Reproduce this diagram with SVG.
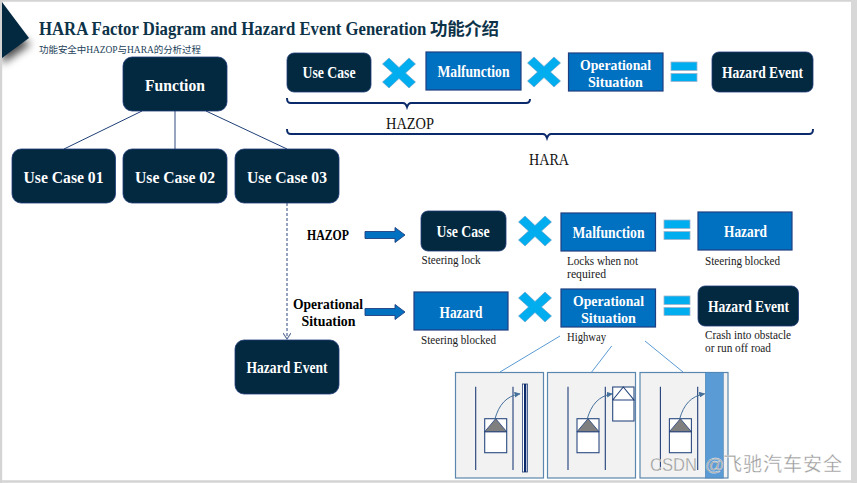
<svg xmlns="http://www.w3.org/2000/svg" width="857" height="483" viewBox="0 0 857 483">
<style>
text{font-family:"Liberation Serif","Noto Sans CJK SC",serif}
.dk{fill:#032940;stroke:#1f3b78;stroke-width:.8}
.bl{fill:#0070c0;stroke:#1f3f80;stroke-width:1.2}
.w{fill:#fff;font-weight:700;font-size:17px;text-anchor:middle}
.w2{fill:#fff;font-weight:700;font-size:15.5px;text-anchor:middle}
.k{fill:#000;font-weight:700;font-size:15.5px;text-anchor:middle}
.s{fill:#1a1a1a;font-size:11.5px}
.br{fill:none;stroke:#0b2a6b;stroke-width:2}
.ln{fill:none;stroke:#203f78;stroke-width:1}
.cl{fill:none;stroke:#5b9bd5;stroke-width:1}
.pn{fill:#f2f2f2;stroke:#5b86ad;stroke-width:1.2}
.rd{fill:none;stroke:#203f78;stroke-width:1.1}
.car{fill:#fff;stroke:#2a4a80;stroke-width:1.1}
.cv{fill:none;stroke:#44709c;stroke-width:1}
.wm{font-size:19px;fill:#999;stroke:#fff;stroke-width:.3;font-family:"Liberation Sans","Noto Sans CJK SC",sans-serif}
</style>
<defs>
<filter id="sh" x="-80%" y="-80%" width="260%" height="260%"><feGaussianBlur stdDeviation="4.5"/></filter>
<polygon id="x" points="-16.500,-9 -10,-15 0,-5.500 10,-15 16.500,-9 6.500,0 16.500,9 10,15 0,5.500 -10,15 -16.500,9 -6.500,0" fill="#00adef" stroke="#6d9ec4" stroke-width=".6"/>
<g id="eq" fill="#00adef" stroke="#9fb4cc" stroke-width=".8"><rect x="0" y="0" width="26" height="8.500"/><rect x="0" y="11.500" width="26" height="8"/></g>
<path id="ar" d="M0,-3.500H30V-7.500L40,0L30,7.500V3.500H0Z" fill="#0070c0" stroke="#1f3f80" stroke-width=".9"/>
<marker id="op" markerWidth="10" markerHeight="8" refX="7" refY="4" orient="auto" markerUnits="userSpaceOnUse"><path d="M1,0L7,4L1,8" fill="none" stroke="#5f7299" stroke-width="1.2"/></marker>
<marker id="sa" markerWidth="7" markerHeight="6" refX="5.500" refY="3" orient="auto" markerUnits="userSpaceOnUse"><path d="M0,0L6,3L0,6Z" fill="#44709c"/></marker>
<g id="car"><rect class="car" x="0" y="0" width="22" height="34"/><path d="M0,13H22" class="rd"/></g>
<g id="mine"><use href="#car" x="484.700" y="418.700"/><path d="M484.700,431.700L495.700,418.700L506.700,431.700Z" fill="#7f7f7f" stroke="#203f78" stroke-width=".8"/><path d="M475.700,386.700V470M513,386.700V470" class="rd"/><path d="M495,418.700C499,405 506,396 520,393.800" class="cv" marker-end="url(#sa)"/></g>
</defs>
<rect x="0" y="0" width="857" height="483" fill="#fff"/>
<polygon points="2,26 31,44 2,64" fill="#000" opacity=".7" filter="url(#sh)"/>
<path d="M0,0.500H857M1,0V483M0,481.500H857" stroke="#d4d4d4" stroke-width="2.400" fill="none"/>
<rect x="851" y="0" width="6" height="483" fill="#d8d8d8"/>
<polygon points="2,2 29,38 2,58" fill="#032940"/>
<text transform="translate(39,35) scale(.93,1)" font-size="18" font-weight="700" fill="#0d3349">HARA Factor Diagram and Hazard Event Generation</text>
<text x="430" y="35" font-size="17.500" font-weight="700" fill="#0d3349" style="font-family:'Noto Sans CJK SC',sans-serif" textLength="69">功能介绍</text>
<text x="39" y="53" font-size="9.500" fill="#1d3f5a" textLength="162">功能安全中HAZOP与HARA的分析过程</text>

<g id="connectors">
<path class="ln" d="M142,111L64,149M206,111L287,149"/>
<path d="M175,111V149" stroke="#7f8fb0" stroke-width="1.600" fill="none"/>
<path d="M287,203V339" stroke="#6a7da3" stroke-width="1.400" stroke-dasharray="3 2" fill="none" marker-end="url(#op)"/>
<use href="#ar" x="365" y="235"/>
<use href="#ar" x="365" y="312"/>
<path class="cl" d="M560,336L500,372M611.700,346L591.700,372M645,341L683,372"/>
<path class="br" d="M287,98C287,102 288,103 291,103H403C405,103 406,104 407,107C408,104 409,103 411,103H526C529,103 530,102 530,99"/>
<path class="br" d="M287,129C287,133 288,134 291,134H543C545,134 546,135 547,138C548,135 549,134 551,134H809C812,134 813,133 813,129"/>
</g>

<g id="function"><rect class="dk" x="123" y="57" width="104" height="54" rx="9"/><text class="w" x="175" y="91" textLength="60" lengthAdjust="spacingAndGlyphs">Function</text></g>
<g id="uc01"><rect class="dk" x="12" y="149" width="103.500" height="54" rx="9"/><text class="w" x="63.500" y="182.500" textLength="80" lengthAdjust="spacingAndGlyphs">Use Case 01</text></g>
<g id="uc02"><rect class="dk" x="123" y="149" width="104" height="54" rx="9"/><text class="w" x="175" y="182.500" textLength="80" lengthAdjust="spacingAndGlyphs">Use Case 02</text></g>
<g id="uc03"><rect class="dk" x="235" y="149" width="104" height="54" rx="9"/><text class="w" x="287" y="182.500" textLength="80" lengthAdjust="spacingAndGlyphs">Use Case 03</text></g>
<g id="he-left"><rect class="dk" x="235" y="340" width="104" height="54" rx="9"/><text class="w" x="287" y="373" textLength="81" lengthAdjust="spacingAndGlyphs">Hazard Event</text></g>

<g id="top-usecase"><rect class="dk" x="287" y="53" width="84" height="39" rx="7"/><text class="w" x="329" y="78" textLength="53" lengthAdjust="spacingAndGlyphs">Use Case</text></g>
<use href="#x" x="399" y="73"/>
<g id="top-malfunction"><rect class="bl" x="426" y="52" width="95" height="38"/><text class="w" x="473.500" y="77" textLength="72" lengthAdjust="spacingAndGlyphs">Malfunction</text></g>
<use href="#x" x="544" y="72"/>
<g id="top-opsit"><rect class="bl" x="568.500" y="53" width="94.500" height="38"/><text class="w2" x="615.500" y="69.500" textLength="71" lengthAdjust="spacingAndGlyphs">Operational</text><text class="w2" x="615.500" y="86.500" textLength="55" lengthAdjust="spacingAndGlyphs">Situation</text></g>
<use href="#eq" x="671" y="62"/>
<g id="top-hazard-event"><rect class="dk" x="712" y="52" width="101" height="40" rx="7"/><text class="w" x="762.500" y="78" textLength="81" lengthAdjust="spacingAndGlyphs">Hazard Event</text></g>
<text x="410" y="129" font-size="16" fill="#111" text-anchor="middle" textLength="48" lengthAdjust="spacingAndGlyphs">HAZOP</text>
<text x="549" y="165" font-size="16" fill="#111" text-anchor="middle" textLength="40" lengthAdjust="spacingAndGlyphs">HARA</text>

<text class="k" x="328" y="240" textLength="42" lengthAdjust="spacingAndGlyphs">HAZOP</text>
<text class="k" x="328" y="309" textLength="70" lengthAdjust="spacingAndGlyphs">Operational</text>
<text class="k" x="328.500" y="326" textLength="54" lengthAdjust="spacingAndGlyphs">Situation</text>

<g id="r1-usecase"><rect class="dk" x="421" y="211" width="85" height="40" rx="7"/><text class="w" x="463" y="237" textLength="53" lengthAdjust="spacingAndGlyphs">Use Case</text><text class="s" x="421.500" y="264" textLength="59" lengthAdjust="spacingAndGlyphs">Steering lock</text></g>
<use href="#x" x="535" y="231"/>
<g id="r1-malfunction"><rect class="bl" x="561" y="213" width="94.500" height="38"/><text class="w" x="608.500" y="238" textLength="72" lengthAdjust="spacingAndGlyphs">Malfunction</text><text class="s" x="567" y="265" textLength="71" lengthAdjust="spacingAndGlyphs">Locks when not</text><text class="s" x="567" y="278" textLength="39" lengthAdjust="spacingAndGlyphs">required</text></g>
<use href="#eq" x="664" y="220"/>
<g id="r1-hazard"><rect class="bl" x="698" y="212" width="94" height="38"/><text class="w" x="745.500" y="237" textLength="43" lengthAdjust="spacingAndGlyphs">Hazard</text><text class="s" x="705" y="265" textLength="75" lengthAdjust="spacingAndGlyphs">Steering blocked</text></g>

<g id="r2-hazard"><rect class="bl" x="414" y="292" width="94" height="38"/><text class="w" x="461" y="318" textLength="43" lengthAdjust="spacingAndGlyphs">Hazard</text><text class="s" x="421" y="344" textLength="75" lengthAdjust="spacingAndGlyphs">Steering blocked</text></g>
<use href="#x" x="535" y="307"/>
<g id="r2-opsit"><rect class="bl" x="561" y="289" width="94.500" height="38"/><text class="w2" x="608.500" y="305.500" textLength="71" lengthAdjust="spacingAndGlyphs">Operational</text><text class="w2" x="608.500" y="322.500" textLength="55" lengthAdjust="spacingAndGlyphs">Situation</text><text class="s" x="567" y="341" textLength="39" lengthAdjust="spacingAndGlyphs">Highway</text></g>
<use href="#eq" x="664" y="296"/>
<g id="r2-hazard-event"><rect class="dk" x="698" y="286" width="100.500" height="40" rx="7"/><text class="w" x="748.500" y="312" textLength="81" lengthAdjust="spacingAndGlyphs">Hazard Event</text><text class="s" x="705" y="339" textLength="86" lengthAdjust="spacingAndGlyphs">Crash into obstacle</text><text class="s" x="705" y="352" textLength="66" lengthAdjust="spacingAndGlyphs">or run off road</text></g>

<g id="panel1"><rect class="pn" x="455.500" y="372.500" width="88" height="105.500"/><use href="#mine"/><rect x="522.500" y="384" width="5" height="88" fill="#fff" stroke="#203f78" stroke-width=".8"/><rect x="524" y="384" width="2.300" height="88" fill="#0b2a6b"/></g>
<g id="panel2"><rect class="pn" x="547.500" y="372.500" width="88" height="105.500"/><use href="#mine" x="92.300"/><rect class="car" x="612.700" y="387" width="21.300" height="34"/><path class="rd" d="M612.700,400L623.300,387L634,400H612.700"/></g>
<g id="panel3"><rect class="pn" x="640" y="372.500" width="88" height="105.500"/><rect x="705.300" y="372.500" width="18" height="105.500" fill="#5b9bd5" stroke="#4a80b0" stroke-width=".6"/><use href="#mine" x="184.700"/></g>

<text class="wm" x="650" y="471" textLength="47" lengthAdjust="spacingAndGlyphs">CSDN</text>
<text class="wm" x="705" y="471">@</text>
<text class="wm" x="723" y="471" textLength="119">飞驰汽车安全</text>
</svg>
